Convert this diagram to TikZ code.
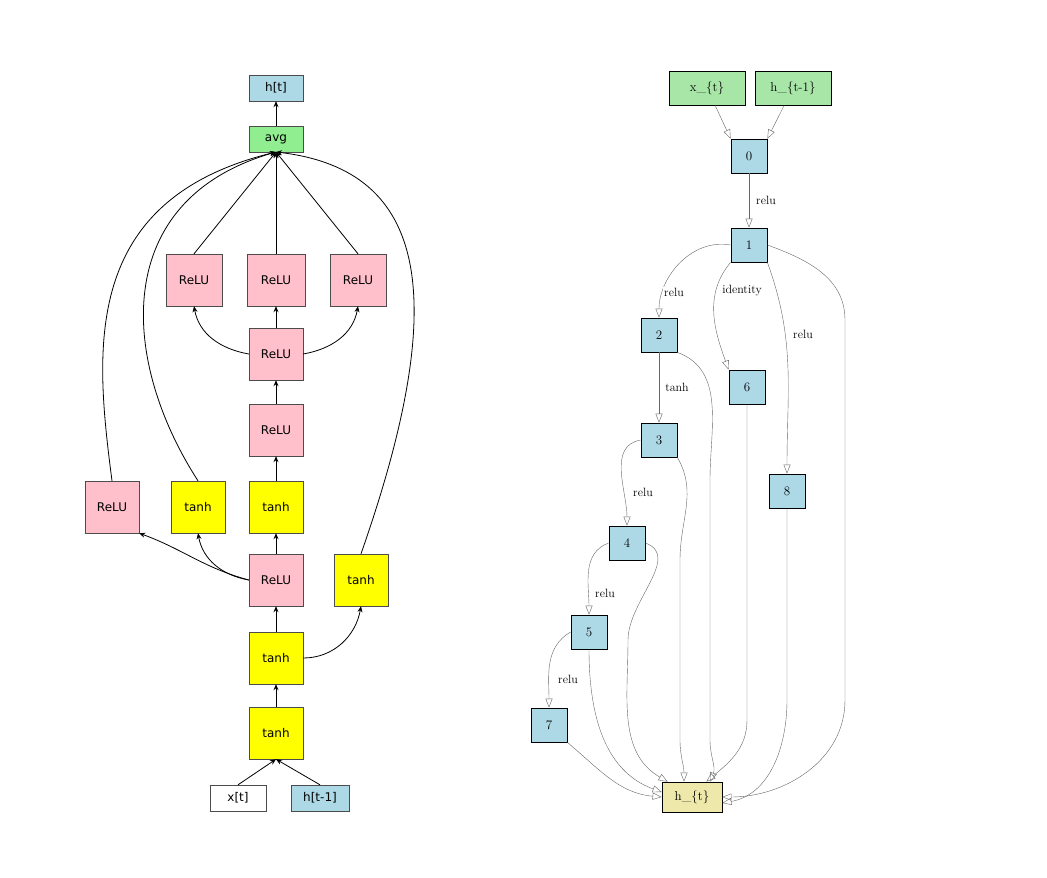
\documentclass[tikz,border=0pt]{standalone}
\usepackage{fontspec}
\newfontfamily\dv{DejaVu Sans}
\usetikzlibrary{arrows.meta}
\definecolor{pk}{HTML}{FFC0CB}
\definecolor{yl}{HTML}{FFFF00}
\definecolor{lb}{HTML}{ADD8E6}
\definecolor{lg}{HTML}{90EE90}
\definecolor{rg}{HTML}{A8E6A8}
\definecolor{kh}{HTML}{EEE8AA}
\begin{document}
\begin{tikzpicture}[x=1pt,y=-1pt,
 L/.style={draw=black!70,font=\dv\fontsize{12}{14}\selectfont,inner sep=0,minimum width=54,minimum height=52},
 S/.style={L,minimum height=26},
 e/.style={-{Stealth[length=6,width=5]},thick},
 R/.style={draw,thick,font=\fontsize{13}{15}\selectfont,inner sep=0,minimum width=36,minimum height=34,fill=lb},
 f/.style={draw=black!60,-{Triangle[open,length=9,width=7]}},
 lab/.style={font=\fontsize{12}{14}\selectfont,fill=white,inner sep=1}]
\useasboundingbox (0,0) rectangle (1047,878);
% left
\node[S,fill=lb] (ht) at (276,88) {h[t]};
\node[S,fill=lg] (avg) at (276,139) {avg};
\node[L,fill=pk,minimum width=56] (ra) at (194,280) {ReLU};
\node[L,fill=pk,minimum width=58] (rb) at (276,280) {ReLU};
\node[L,fill=pk,minimum width=56] (rc) at (358,280) {ReLU};
\node[L,fill=pk] (rm) at (276,354) {ReLU};
\node[L,fill=pk] (rn) at (276,430) {ReLU};
\node[L,fill=pk] (rl) at (112,507) {ReLU};
\node[L,fill=yl] (t1) at (198,507) {tanh};
\node[L,fill=yl] (t2) at (276,507) {tanh};
\node[L,fill=pk] (rr) at (276,580) {ReLU};
\node[L,fill=yl] (t3) at (361,580) {tanh};
\node[L,fill=yl] (t4) at (276,658) {tanh};
\node[L,fill=yl] (t5) at (276,733) {tanh};
\node[S,fill=white,minimum width=56] (xt) at (238,798) {x[t]};
\node[S,fill=lb,minimum width=58] (hp) at (320,798) {h[t-1]};
\coordinate (ab) at (276,152);
\draw[e] (xt.north) -- (t5.south);
\draw[e] (hp.north) -- (t5.south);
\draw[e] (t5) -- (t4);
\draw[e] (t4) -- (rr);
\draw[e] (t4.east) to[out=0,in=-100] (t3.south);
\draw[e] (rr) -- (t2);
\draw[e] (rr.west) to[out=170,in=-80] (t1.south);
\draw[e] (rr.west) to[out=165,in=-20] (rl.south east);
\draw[e] (t2) -- (rn);
\draw[e] (rn) -- (rm);
\draw[e] (rm) -- (rb);
\draw[e] (rm.west) to[out=170,in=-80] (ra.south);
\draw[e] (rm.east) to[out=10,in=-100] (rc.south);
\draw[e] (ra.north) -- (ab);
\draw[e] (rb.north) -- (ab);
\draw[e] (rc.north) -- (ab);
\draw[e] (rl.north) .. controls (95,350) and (80,200) .. (ab);
\draw[e] (t1.north) .. controls (120,360) and (110,200) .. (ab);
\draw[e] (t3.north) .. controls (450,300) and (430,170) .. (ab);
\draw[e] (avg) -- (ht);
% right
\node[R,fill=rg,minimum width=76] (x) at (707,88) {x\_\{t\}};
\node[R,fill=rg,minimum width=76] (h) at (793,88) {h\_\{t-1\}};
\node[R] (n0) at (749,156) {0};
\node[R] (n1) at (749,245) {1};
\node[R] (n2) at (659,335) {2};
\node[R] (n6) at (747,387) {6};
\node[R] (n3) at (659,440) {3};
\node[R] (n8) at (787,491) {8};
\node[R] (n4) at (627,543) {4};
\node[R] (n5) at (589,632) {5};
\node[R] (n7) at (549,725) {7};
\node[R,fill=kh,minimum width=60,minimum height=30] (hT) at (692,797) {h\_\{t\}};
\draw[f] (x) -- (n0.north west);
\draw[f] (h) -- (n0.north east);
\draw[f] (n0) -- (n1);
\draw[f] (n1.west) to[out=170,in=90] (n2.north);
\draw[f] (n1.south west) to[out=-130,in=110] (n6.north west);
\draw[f] (n1.south east) to[out=-70,in=90] (n8.north);
\draw[f] (n2) -- (n3);
\draw[f] (n3.west) to[out=-170,in=90] (n4.north);
\draw[f] (n4.west) to[out=-160,in=90] (n5.north);
\draw[f] (n5.west) to[out=-150,in=90] (n7.north);
\draw[f] (n1.east) to[out=-20,in=90] (845,320) -- (845,700) to[out=-90,in=0] (hT.east);
\draw[f] (n8.south) -- (787,700) to[out=-90,in=10] ([yshift=-6]hT.east);
\draw[f] (n6.south) -- (747,720) to[out=-90,in=40] ([xshift=-16]hT.north east);
\draw[f] (n2.south east) to[out=-20,in=90] (710,480) -- (710,740) to[out=-90,in=70] ([xshift=-12]hT.north east);
\draw[f] (n3.south east) to[out=-60,in=90] (680,560) -- (680,740) to[out=-90,in=90] ([xshift=-8]hT.north);
\draw[f] (n4.east) to[out=-20,in=90] (628,640) to[out=-90,in=150] ([xshift=6]hT.north west);
\draw[f] (n5.south) to[out=-90,in=160] ([yshift=5]hT.west);
\draw[f] (n7.south east) to[out=-40,in=175] (hT.west);
\node[lab] at (766,200) {relu};
\node[lab] at (674,292) {relu};
\node[lab] at (742,291) {identity};
\node[lab] at (803,334) {relu};
\node[lab] at (677,387) {tanh};
\node[lab] at (643,492) {relu};
\node[lab] at (605,593) {relu};
\node[lab] at (568,679) {relu};
\end{tikzpicture}
\end{document}
